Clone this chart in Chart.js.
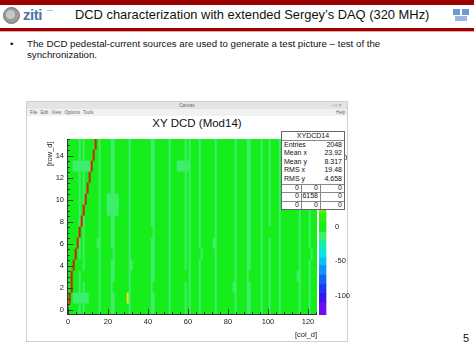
<!DOCTYPE html>
<html><head><meta charset="utf-8">
<script src="https://cdn.jsdelivr.net/npm/chart.js@4/dist/chart.umd.min.js"></script>
<style>
html,body{margin:0;padding:0;background:#fff;}
body{width:474px;height:355px;position:relative;overflow:hidden;font-family:"Liberation Sans",Arial,sans-serif;color:#111;}
.abs{position:absolute;}
#stats div{position:absolute;white-space:nowrap;}
</style></head><body>
<!-- slide header -->
<div class="abs" style="left:0;top:0;width:474px;height:5px;background:#9c0000"></div>
<div class="abs" style="left:3px;top:7px;width:15px;height:15px;border-radius:50%;background:#9a9a9a;border:1px solid #777"></div>
<div class="abs" style="left:6px;top:10px;width:9px;height:9px;border-radius:50%;background:#c8c8c8"></div>
<div class="abs" style="left:23px;top:6px;font-size:15px;font-weight:bold;color:#4f77a3;letter-spacing:-0.5px">ziti</div>
<div class="abs" style="left:47px;top:8px;font-size:4px;color:#889">••••</div>
<div class="abs" id="slideTitle" style="left:75px;top:7px;font-size:12.9px;white-space:nowrap;color:#111">DCD characterization with extended Sergey’s DAQ (320 MHz)</div>
<div class="abs" style="left:453px;top:9px;width:7px;height:6px;background:#6d9ad6"></div>
<div class="abs" style="left:462px;top:9px;width:7px;height:6px;background:#6d9ad6"></div>
<div class="abs" style="left:455px;top:16px;width:12px;height:5px;background:#9bb7de"></div>
<div class="abs" style="left:0;top:28px;width:474px;height:3px;background:#a00000"></div>
<div class="abs" style="left:0;top:31px;width:474px;height:1px;background:#dca8a8"></div>
<!-- bullet -->
<div class="abs" style="left:10px;top:38px;font-size:9.7px;">•</div>
<div class="abs" id="bullet" style="left:27px;top:39px;width:420px;font-size:9.7px;line-height:10.8px;">The DCD pedestal-current sources are used to generate a test picture – test of the<br>synchronization.</div>
<!-- ROOT window -->
<div class="abs" style="left:26px;top:101px;width:320px;height:239px;border:1px solid #cfcfcf;background:#fff"></div>
<div class="abs" style="left:27px;top:102px;width:320px;height:7px;background:#e4e4e4"></div>
<div class="abs" style="left:27px;top:109px;width:320px;height:7px;background:#f1f1f1"></div>
<div class="abs" style="left:27px;top:102px;width:320px;text-align:center;font-size:4.5px;color:#666;line-height:7px">Canvas</div>
<div class="abs" style="left:331px;top:102px;font-size:4.5px;color:#777;line-height:7px">–&nbsp;□&nbsp;×</div>
<div class="abs" style="left:30px;top:109px;font-size:4.5px;color:#666;line-height:7px;word-spacing:2px">File Edit View Options Tools</div>
<div class="abs" style="left:336px;top:109px;font-size:4.5px;color:#666;line-height:7px">Help</div>
<div class="abs" id="histTitle" style="left:67px;top:117px;width:260px;text-align:center;font-size:11.5px;white-space:nowrap">XY DCD (Mod14)</div>
<canvas id="main" class="abs" style="left:30px;top:115px" width="300" height="225"></canvas>
<div class="abs" style="left:45px;top:139px;width:9px;height:40px;"><div style="position:absolute;left:0;top:0;transform-origin:0 0;transform:rotate(-90deg) translate(-27px,0);font-size:7.5px;white-space:nowrap;color:#222;line-height:9px">[row_d]</div></div>
<canvas id="cbar" class="abs" style="left:318px;top:130px" width="40" height="200"></canvas>
<div class="abs" id="stats" style="left:281px;top:131px;width:62px;height:77px;border:1px solid #666;background:#fff;font-size:7px;line-height:8.6px;z-index:5"></div>
<div class="abs" style="left:463px;top:332px;font-size:11px;">5</div>
<script>
// ---------------- data ----------------
// cell rows, bottom (row 0) to top (row 15); '.' = normal pedestal, '+' = slightly lower pedestal
const cellRows = [
"......+.+. ......+... ..++...... .+........ ..++...... .+.......+ .+....+... ....+..... ....+..... ++.....+.. .+....+... ......+... .+...",
"...+++++++ +.....+... ..++...... .+........ ..++...... .+.......+ .+....+... ....+..... ....+..... ++.....+.. .+....+... ......+... .+...",
"......+.+. ......+... ..+....... .+........ ..+....... .+.......+ .+....+... ....+..... ...++..... ++.....+.. .+....+... ......+... .+...",
"......+... ......+... ..++...... .+........ ..++...... .+........ .+....+... ....+..... ....+..... +......+.. .+....+... .....++... .+...",
"........+. ......+... ..++...... .++....... ..++...... .+.......+ .+....+... ....+..... ....+..... ++.....+.. .+....+... ......+... .+...",
"......+.+. ......+... ...+...... .+........ ..++...... .+.......+ .+.....+.. ....+..... ....+..... ++.....+.. .+....+... ......+... ..+..",
"......+.+. .....++... ..++...... .+........ ..++...... .+.......+ .+....+... ...++..... ....+..... ++.....+.. .+....+... ......+... .+...",
"......+.+. ......+... ..++...... .+........ ...+...... .+.......+ .+....+... ....+..... ....+..... ++.....+.. ......+... ......+... .+...",
"......+.+. ......+... ..++...... .+........ ..++...... .+.......+ .+....+... ....+..... ....+..... ++.....+.. .+....+... ......+... .+...",
"......+.+. ......+... ++++++.... .+........ ..++...... .+.......+ .+....+... ....+..... ....+..... ++.....+.. .+....+... ......+... .+...",
"......+.+. ......+... ++++++.... .+........ ..++...... .+.......+ .+....+... ....+..... ....+..... ++.....+.. .+....+... ......+... .+...",
"......+.+. ......+... ..++...... .+........ ..++...... .+.......+ .+....+... ....+..... ....+..... ++.....+.. .+....+... ......+... .+...",
"......+.+. ......+... ..++...... .+........ ..++...... .+.......+ .+....+... ....+..... ....+..... ++.....+.. .+....+... ......+... .+...",
"...+++++++ ++....+... ..++...... .+........ ..++...... .+...+++++ ++....+... ....+..... ....+..... ++.....+.. .+....+... ......+... .+...",
"......+.+. ......+... ..++...... .+........ ..++...... .+.......+ .+....+... ....+..... ....+..... ++.....+.. .+....+... ......+... .+...",
"......+.+. ......+... ..++...... .+........ ..++...... .+.......+ .+....+... ....+..... ....+..... ++.....+.. .+....+... ......+... .+..."
];
const levelValues = {'.': 2, '+': -12};
// test-picture diagonal: column of the hot cell in each row 0..15
const diagonalCols = [0,1,2,2,3,4,5,6,7,8,9,10,11,12,13,14];
const diagonalValue = 125;
// single isolated cell [row, col, value]
const extraCells = [[1, 30, 85]];
const xTicks = [0,20,40,60,80,100,120];
const yTicks = [0,2,4,6,8,10,12,14];
const cbTicks = [-100,-50,0,50,100];
const paletteEdges = [-128,-110,-97,-84,-70,-56,-45,-33,-20,-8,8,20,35,50,65,80,92,104,116,128];
const paletteColors = ['#6a12ee','#3f14f0','#2234fa','#1662f4','#1292f2','#06c2f2','#08e4e0','#10f0a6','#3eee6a','#16ee1c','#2cf010','#5cf008','#8cf004','#b8f000','#e2ee00','#f8e010','#f8b010','#f46008','#d82008'];
const statsName = 'XYDCD14';
const statsRows = [['Entries','2048'],['Mean x','23.92'],['Mean y','8.317'],['RMS x','19.48'],['RMS y','4.658']];
const statsGrid = [['0','0','0'],['0','6158','0'],['0','0','0']];

// ---------------- build ----------------
Chart.defaults.font.family = '"Liberation Sans", Arial, sans-serif';
Chart.defaults.color = '#222';
function colorFor(v){
  for (let i=0;i<paletteColors.length;i++){ if (v < paletteEdges[i+1]) return paletteColors[i]; }
  return paletteColors[paletteColors.length-1];
}
const grid = cellRows.map(s => s.replace(/ /g,'').split('').map(ch => levelValues[ch]));
diagonalCols.forEach((c,r) => { grid[r][c] = diagonalValue; });
extraCells.forEach(([r,c,v]) => { grid[r][c] = v; });
const nCols = grid[0].length;
const colLabels = grid[0].map((_,i) => i);

const datasets = grid.map((vals, r) => ({
  label: 'row ' + r,
  data: vals.map(() => [r - 0.5, r + 0.5]),
  backgroundColor: vals.map(colorFor),
  xAxisID: 'xc', yAxisID: 'y',
  grouped: false, barPercentage: 1, categoryPercentage: 1,
  borderWidth: 0, borderSkipped: false
}));

const bgFill = { id:'bgFill', beforeDatasetsDraw(chart){
  const {ctx, chartArea:a} = chart; ctx.save(); ctx.fillStyle = colorFor(levelValues['.']);
  ctx.fillRect(a.left, a.top, a.right-a.left, a.bottom-a.top); ctx.restore(); } };
const insideTicks = { id:'insideTicks', afterDatasetsDraw(chart){
  const {ctx, chartArea:a, scales} = chart; const sx = scales.x, sy = scales.y;
  ctx.save(); ctx.strokeStyle = '#333'; ctx.lineWidth = 1; ctx.beginPath();
  ctx.moveTo(a.left+0.5, a.top); ctx.lineTo(a.left+0.5, a.bottom);
  ctx.moveTo(a.left, a.bottom-0.5); ctx.lineTo(a.right, a.bottom-0.5);
  const xStep = (xTicks[1]-xTicks[0])/5;
  for (let k=0; xTicks[0]+k*xStep <= sx.max; k++){
    const v = xTicks[0]+k*xStep; const px = Math.round(sx.getPixelForValue(v))+0.5;
    const len = (k%5===0) ? 6 : 3; ctx.moveTo(px, a.bottom); ctx.lineTo(px, a.bottom-len); }
  const yStep = (yTicks[1]-yTicks[0])/4;
  for (let k=0; yTicks[0]+k*yStep <= sy.max; k++){
    const v = yTicks[0]+k*yStep; const py = Math.round(sy.getPixelForValue(v))+0.5;
    const len = (k%4===0) ? 6 : 3; ctx.moveTo(a.left, py); ctx.lineTo(a.left+len, py); }
  ctx.stroke(); ctx.restore(); } };

new Chart(document.getElementById('main'), {
  type: 'bar',
  data: { labels: colLabels, datasets },
  options: {
    responsive: false, animation: false, events: [],
    layout: { padding: { top: 24, right: 13, left: 0, bottom: 0 } },
    plugins: { legend: { display: false }, tooltip: { enabled: false } },
    scales: {
      xc: { type: 'category', display: false, offset: true },
      x: { type: 'linear', position: 'bottom', offset: false, min: -0.5, max: nCols - 0.5,
           afterBuildTicks: s => { s.ticks = xTicks.map(v => ({value: v})); },
           afterFit: s => { s.height = 25; },
           grid: { display: false, drawTicks: false, tickLength: 0, offset: false }, border: { display: false },
           ticks: { font: { size: 7.5 }, padding: 2, maxRotation: 0, autoSkip: false },
           title: { display: true, text: '[col_d]', align: 'end', font: { size: 7.5 }, padding: { top: 0, bottom: 1 } } },
      y: { type: 'linear', position: 'left', offset: false, min: -0.5, max: 15.5,
           afterBuildTicks: s => { s.ticks = yTicks.map(v => ({value: v})); },
           afterFit: s => { s.width = 37; },
           grid: { display: false, drawTicks: false, tickLength: 0 }, border: { display: false },
           ticks: { font: { size: 7.5 }, padding: 3, autoSkip: false } }
    }
  },
  plugins: [bgFill, insideTicks]
});

// colour palette axis
const cbDatasets = paletteColors.map((c, i) => ({
  data: [[paletteEdges[i], paletteEdges[i+1]]], backgroundColor: c,
  xAxisID: 'cx', yAxisID: 'cy', grouped: false, barPercentage: 1, categoryPercentage: 1,
  borderWidth: 0, borderSkipped: false
}));
new Chart(document.getElementById('cbar'), {
  type: 'bar',
  data: { labels: [''], datasets: cbDatasets },
  options: {
    responsive: false, animation: false, events: [],
    layout: { padding: { top: 9, left: 1, bottom: 15, right: 0 } },
    plugins: { legend: { display: false }, tooltip: { enabled: false } },
    scales: {
      cx: { type: 'category', display: false, offset: false },
      cy: { type: 'linear', position: 'right', min: paletteEdges[0], max: paletteEdges[paletteEdges.length-1],
            afterBuildTicks: s => { s.ticks = cbTicks.map(v => ({value: v})); },
            afterFit: s => { s.width = 25; },
            grid: { display: false, drawTicks: false, tickLength: 0 }, border: { display: false },
            ticks: { font: { size: 7.5 }, padding: 2, autoSkip: false } }
    }
  }
});

// statistics box
const st = document.getElementById('stats');
const rh = 8.6; let y = 0; let html = '';
html += `<div style="left:0;top:${y}px;width:62px;text-align:center">${statsName}</div>`;
y += rh; html += `<div style="left:0;top:${y-0.5}px;width:62px;height:0;border-top:1px solid #888"></div>`;
statsRows.forEach(([k,v]) => { html += `<div style="left:2px;top:${y}px">${k}</div><div style="right:2px;top:${y}px">${v}</div>`; y += rh; });
const cx = [0, 19, 38, 62];
statsGrid.forEach(row => {
  html += `<div style="left:0;top:${y}px;width:62px;height:0;border-top:1px solid #888"></div>`;
  row.forEach((v, j) => { html += `<div style="left:${cx[j]}px;top:${y}px;width:${cx[j+1]-cx[j]-2}px;text-align:right">${v}</div>`; });
  y += rh;
});
html += `<div style="left:19px;top:${rh*6}px;width:0;height:${rh*3}px;border-left:1px solid #888"></div>`;
html += `<div style="left:38px;top:${rh*6}px;width:0;height:${rh*3}px;border-left:1px solid #888"></div>`;
st.innerHTML = html;
</script>
</body></html>
